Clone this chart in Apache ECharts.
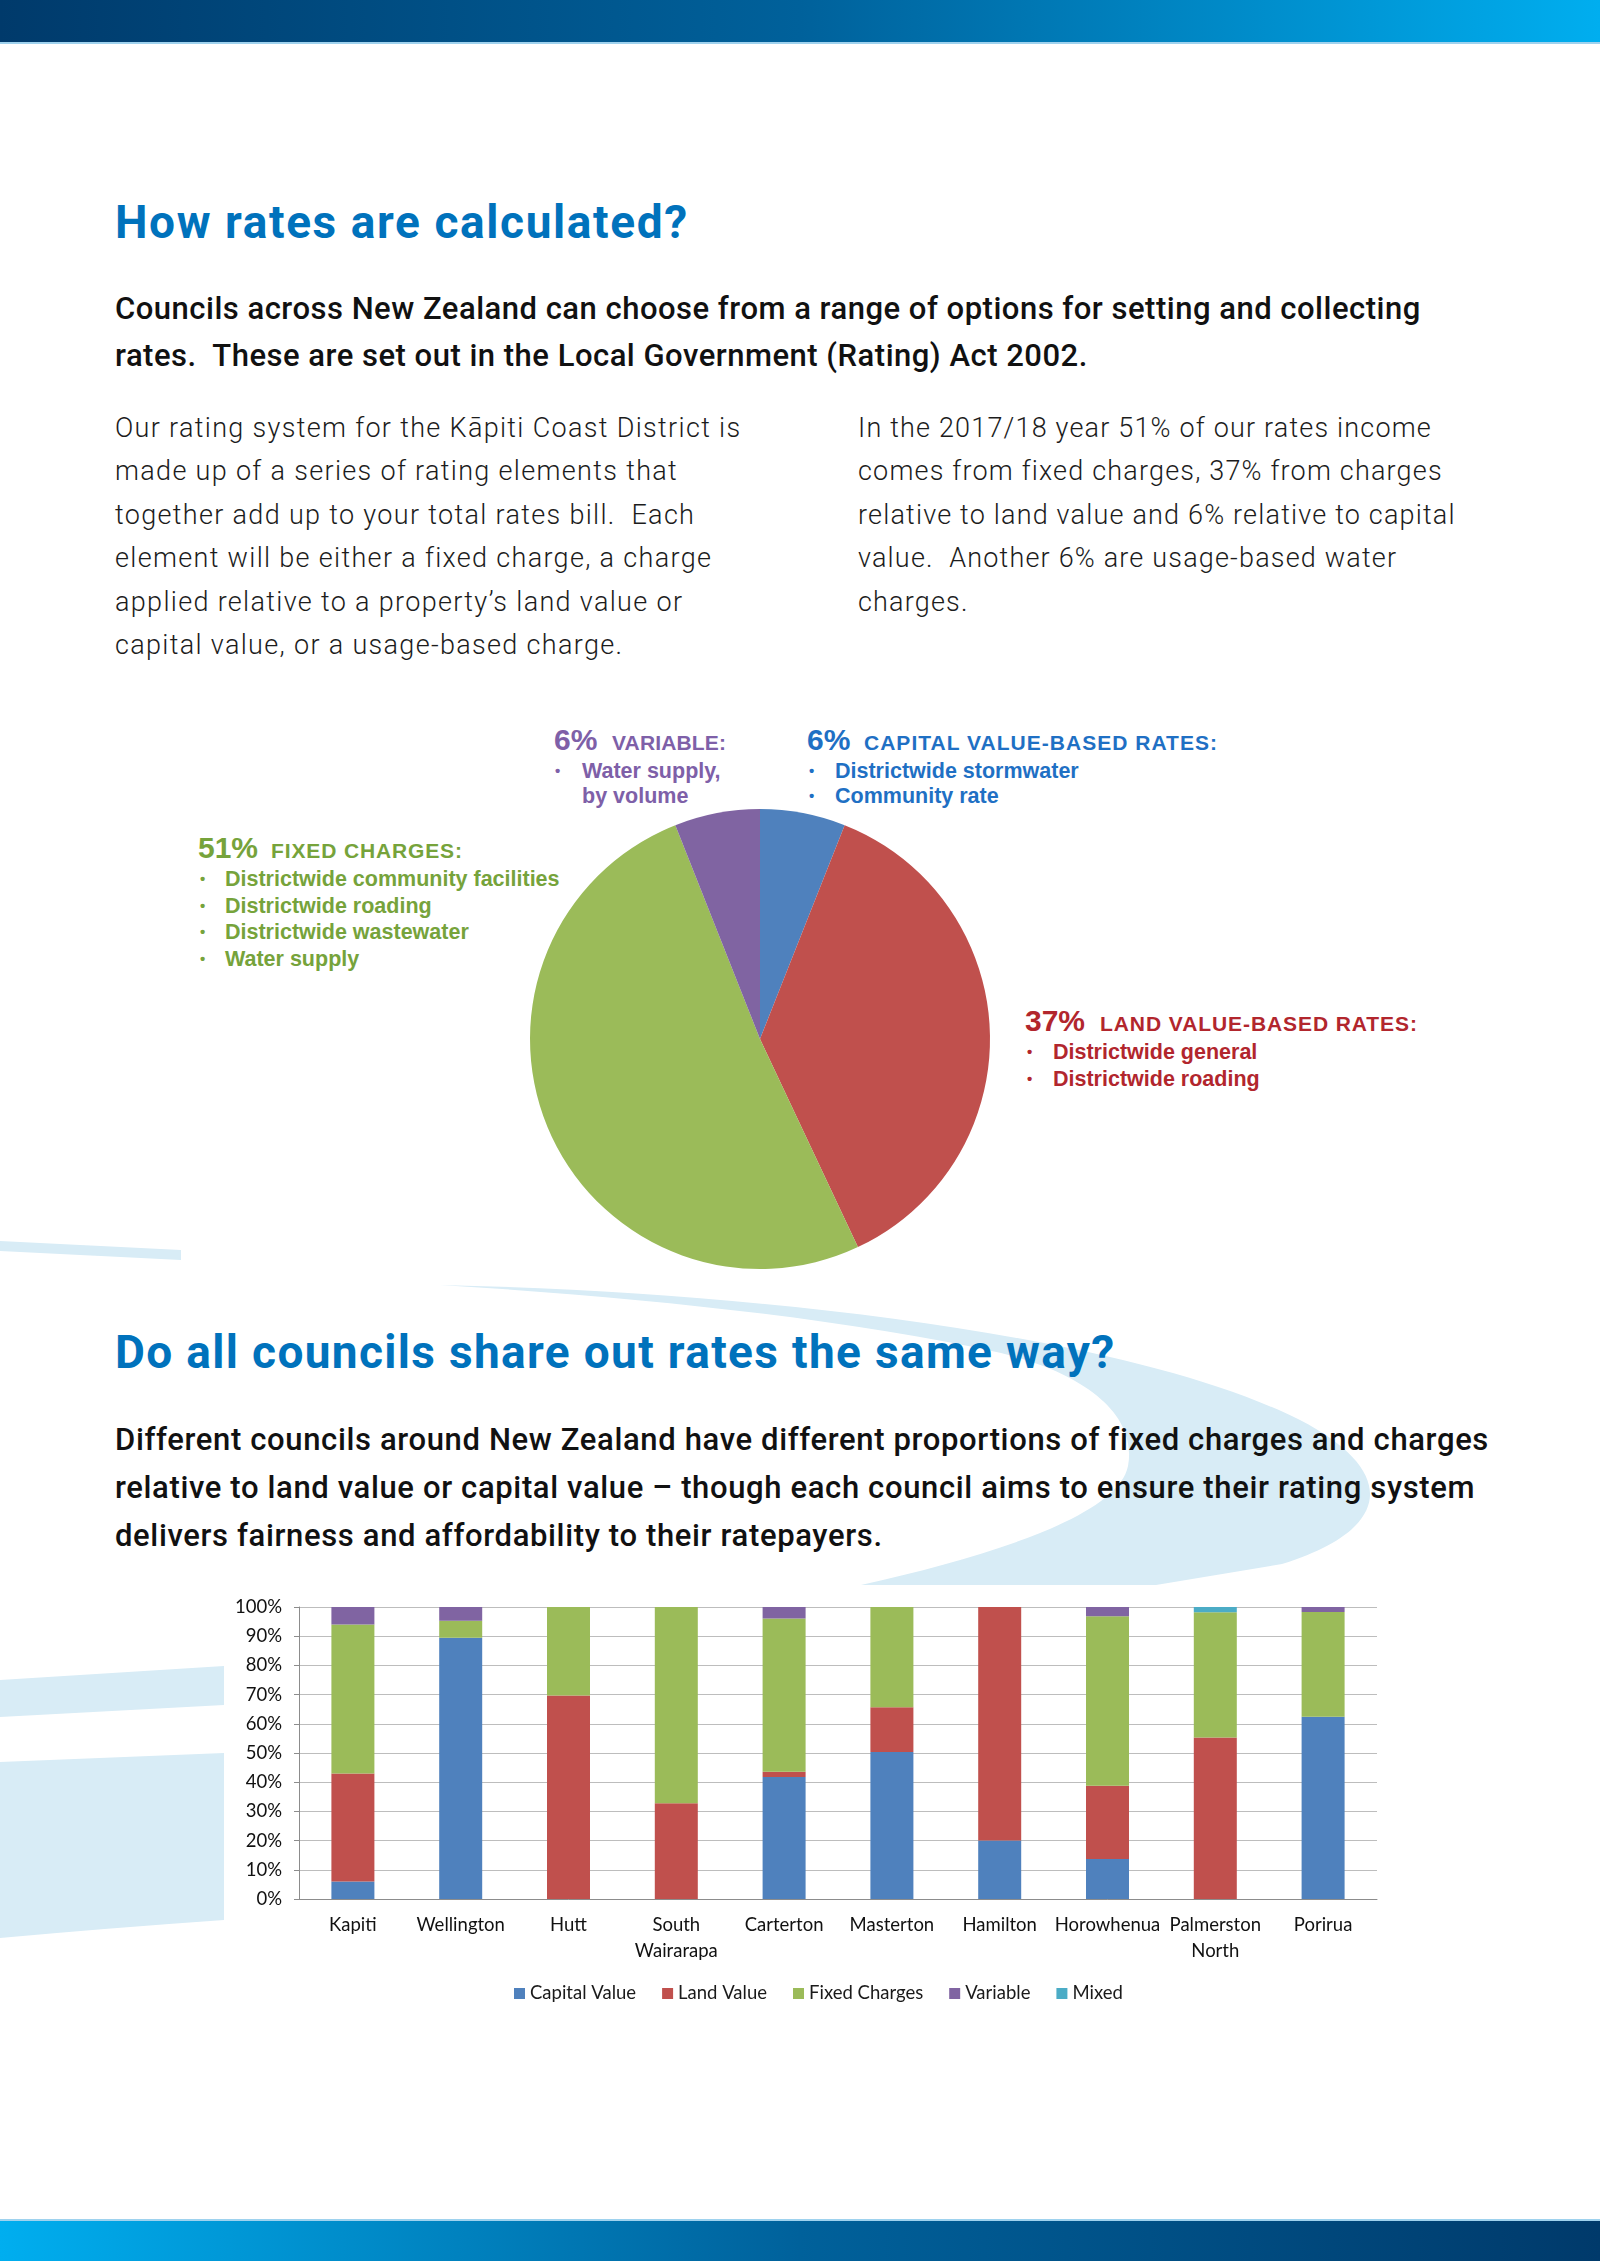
<!DOCTYPE html>
<html lang="en">
<head>
<meta charset="utf-8">
<title>How rates are calculated?</title>
<script src="https://cdn.jsdelivr.net/npm/echarts@6/dist/echarts.min.js"></script>
<style>
  html, body { margin: 0; padding: 0; background: #fff; }
  #page { position: relative; width: 1600px; height: 2261px; overflow: hidden; }
  #paper, #charts { position: absolute; left: 0; top: 0; width: 1600px; height: 2261px; }
  #paper text { white-space: pre; }
  .h { font: 700 46px Roboto, sans-serif; fill: #0072bc; }
  .lead { font: 500 31px Roboto, sans-serif; fill: #111; }
  .body { font: 300 27px Roboto, sans-serif; fill: #1c1c1c; }
  .pct { font: 700 30px "Liberation Sans", Arial, sans-serif; }
  .cap { font: 700 21px "Liberation Sans", Arial, sans-serif; }
  .item { font: 700 21.5px "Liberation Sans", Arial, sans-serif; }
  .dot { font: 700 15px "Liberation Sans", Arial, sans-serif; }
  .purple { fill: #7e60a8; }
  .blue { fill: #1f70c4; }
  .green { fill: #76a33b; }
  .red { fill: #b2262d; }
</style>
</head>
<body>
<div id="page">
  <svg id="paper" width="1600" height="2261" viewBox="0 0 1600 2261">
    <defs>
      <linearGradient id="topBar" x1="0" y1="0" x2="1" y2="0">
        <stop offset="0" stop-color="#003a6b"/>
        <stop offset="0.5" stop-color="#00619b"/>
        <stop offset="1" stop-color="#00aeef"/>
      </linearGradient>
      <linearGradient id="bottomBar" x1="0" y1="0" x2="1" y2="0">
        <stop offset="0" stop-color="#00aeef"/>
        <stop offset="0.5" stop-color="#00619b"/>
        <stop offset="1" stop-color="#003a6b"/>
      </linearGradient>
    </defs>

    <!-- page bands -->
    <rect x="0" y="0" width="1600" height="42" fill="url(#topBar)"/>
    <rect x="0" y="42" width="1600" height="2" fill="#9fd2ee"/>
    <rect x="0" y="2219" width="1600" height="2" fill="#9fd2ee"/>
    <rect x="0" y="2221" width="1600" height="40" fill="url(#bottomBar)"/>

    <!-- background swooshes -->
    <g fill="#d8ecf6">
      <path d="M0,1241 L181,1250 L181,1260 L0,1251 Z"/>
      <path d="M440,1285 C760,1292 1130,1335 1300,1420 C1400,1472 1392,1530 1282,1564 L1156,1585 L861,1585 C990,1556 1118,1516 1128,1466 C1138,1412 1080,1372 1001,1353 C840,1318 640,1297 440,1285 Z"/>
      <path d="M0,1680 L224,1666 L224,1705 L0,1717 Z"/>
      <path d="M0,1762 L224,1753 L224,1920 Q110,1928 0,1938 Z"/>
    </g>

    <g class="h" data-w="572">
      <text x="115" y="238">How rates are calculated?</text>
    </g>
    <g class="lead" data-w="1305">
      <text x="115" y="319">Councils across New Zealand can choose from a range of options for setting and collecting</text>
      <text x="115" y="366">rates.  These are set out in the Local Government (Rating) Act 2002.</text>
    </g>
    <g class="body" data-w="625">
      <text x="115" y="437">Our rating system for the Kāpiti Coast District is</text>
      <text x="115" y="480.4">made up of a series of rating elements that</text>
      <text x="115" y="523.8">together add up to your total rates bill.  Each</text>
      <text x="115" y="567.2">element will be either a fixed charge, a charge</text>
      <text x="115" y="610.6">applied relative to a property’s land value or</text>
      <text x="115" y="654">capital value, or a usage-based charge.</text>
    </g>
    <g class="body" data-w="573">
      <text x="858" y="437">In the 2017/18 year 51% of our rates income</text>
      <text x="858" y="480.4">comes from fixed charges, 37% from charges</text>
      <text x="858" y="523.8">relative to land value and 6% relative to capital</text>
      <text x="858" y="567.2">value.  Another 6% are usage-based water</text>
      <text x="858" y="610.6">charges.</text>
    </g>

    <!-- pie call-outs -->
    <g class="purple">
      <text class="pct" x="554" y="750">6%</text>
      <text class="cap" x="612" y="750" data-w="114">VARIABLE:</text>
      <text class="dot" x="555" y="776">•</text>
      <text class="item" x="582" y="778">Water supply,</text>
      <text class="item" x="582" y="803">by volume</text>
    </g>
    <g class="blue">
      <text class="pct" x="807" y="750">6%</text>
      <text class="cap" x="864" y="750" data-w="353">CAPITAL VALUE-BASED RATES:</text>
      <text class="dot" x="809" y="776">•</text>
      <text class="item" x="835" y="778">Districtwide stormwater</text>
      <text class="dot" x="809" y="801">•</text>
      <text class="item" x="835" y="803">Community rate</text>
    </g>
    <g class="green">
      <text class="pct" x="198" y="858">51%</text>
      <text class="cap" x="271" y="858" data-w="191">FIXED CHARGES:</text>
      <text class="dot" x="200" y="884">•</text>
      <text class="item" x="225" y="886">Districtwide community facilities</text>
      <text class="dot" x="200" y="911">•</text>
      <text class="item" x="225" y="913">Districtwide roading</text>
      <text class="dot" x="200" y="937">•</text>
      <text class="item" x="225" y="939">Districtwide wastewater</text>
      <text class="dot" x="200" y="964">•</text>
      <text class="item" x="225" y="966">Water supply</text>
    </g>
    <g class="red">
      <text class="pct" x="1025" y="1031">37%</text>
      <text class="cap" x="1100" y="1031" data-w="317">LAND VALUE-BASED RATES:</text>
      <text class="dot" x="1027" y="1057">•</text>
      <text class="item" x="1053" y="1059">Districtwide general</text>
      <text class="dot" x="1027" y="1084">•</text>
      <text class="item" x="1053" y="1086">Districtwide roading</text>
    </g>

    <g class="h" data-w="999">
      <text x="115" y="1368">Do all councils share out rates the same way?</text>
    </g>
    <g class="lead" data-w="1373">
      <text x="115" y="1450">Different councils around New Zealand have different proportions of fixed charges and charges</text>
      <text x="115" y="1498">relative to land value or capital value – though each council aims to ensure their rating system</text>
      <text x="115" y="1546">delivers fairness and affordability to their ratepayers.</text>
    </g>
  </svg>
  <div id="charts"></div>
</div>

<script>
// Kapiti rates income 2017/18, percent
const pieNames = ["Capital value-based rates", "Land value-based rates", "Fixed charges", "Variable"];
const pieValues = [6, 37, 51, 6];

// share of rates by council, percent
const councils = ["Kapiti", "Wellington", "Hutt", "South\nWairarapa", "Carterton", "Masterton", "Hamilton", "Horowhenua", "Palmerston\nNorth", "Porirua"];
const seriesNames = ["Capital Value", "Land Value", "Fixed Charges", "Variable", "Mixed"];
const capitalValue = [6, 89.5, 0, 0, 41.8, 50.3, 20, 13.7, 0, 62.4];
const landValue = [37, 0, 69.7, 32.8, 1.8, 15.4, 80, 25.1, 55.3, 0];
const fixedCharges = [51, 5.8, 30.3, 67.2, 52.5, 34.3, 0, 58, 42.9, 35.9];
const variable = [6, 4.7, 0, 0, 3.9, 0, 0, 3.2, 0, 1.7];
const mixed = [0, 0, 0, 0, 0, 0, 0, 0, 1.8, 0];

const palette = ["#4f81bd", "#c0504d", "#9bbb59", "#8064a2", "#4bacc6"];

// the print uses a narrow DIN face, so track each block until its first line
// is as wide as on the print
document.querySelectorAll("[data-w]").forEach(function (el) {
  const lines = el.tagName.toLowerCase() === "text" ? [el] : Array.from(el.querySelectorAll("text"));
  const first = lines[0];
  const gap = (Number(el.dataset.w) - first.getComputedTextLength()) / (first.getNumberOfChars() - 1);
  lines.forEach(function (t) {
    t.style.letterSpacing = gap.toFixed(2) + "px";
  });
});

const chart = echarts.init(document.getElementById("charts"));

const barSeries = [capitalValue, landValue, fixedCharges, variable, mixed].map(function (values, i) {
  return {
    name: seriesNames[i],
    type: "bar",
    stack: "total",
    barWidth: 43,
    itemStyle: { color: palette[i] },
    data: values,
  };
});

chart.setOption({
  animation: false,
  backgroundColor: "transparent",
  textStyle: { fontFamily: "Lato, sans-serif" },
  legend: {
    data: seriesNames,
    left: 509,
    top: 1979,
    icon: "rect",
    itemWidth: 11,
    itemHeight: 11,
    itemGap: 26,
    selectedMode: false,
    textStyle: { color: "#1a1a1a", fontSize: 18.5 },
  },
  grid: {
    left: 299,
    top: 1607,
    width: 1078,
    height: 292,
    outerBoundsMode: "none",
  },
  xAxis: {
    type: "category",
    data: councils,
    axisLine: { lineStyle: { color: "#8c8c8c" } },
    axisTick: { length: 7, lineStyle: { color: "#8c8c8c" } },
    axisLabel: { interval: 0, color: "#111", fontSize: 18.5, lineHeight: 26, margin: 13 },
  },
  yAxis: {
    type: "value",
    min: 0,
    max: 100,
    interval: 10,
    axisLine: { show: true, lineStyle: { color: "#8c8c8c" } },
    axisTick: { show: true, length: 5, lineStyle: { color: "#8c8c8c" } },
    axisLabel: { formatter: "{value}%", color: "#111", fontSize: 18.5, margin: 17 },
    splitLine: { lineStyle: { color: "#bdbdbd" } },
  },
  series: [
    {
      name: "Rates income",
      type: "pie",
      center: [760, 1039],
      radius: 230,
      startAngle: 90,
      clockwise: true,
      silent: true,
      label: { show: false },
      labelLine: { show: false },
      itemStyle: { borderWidth: 0 },
      data: pieNames.map(function (name, i) {
        return { name: name, value: pieValues[i], itemStyle: { color: palette[i] } };
      }),
    },
  ].concat(barSeries),
});
</script>
</body>
</html>
